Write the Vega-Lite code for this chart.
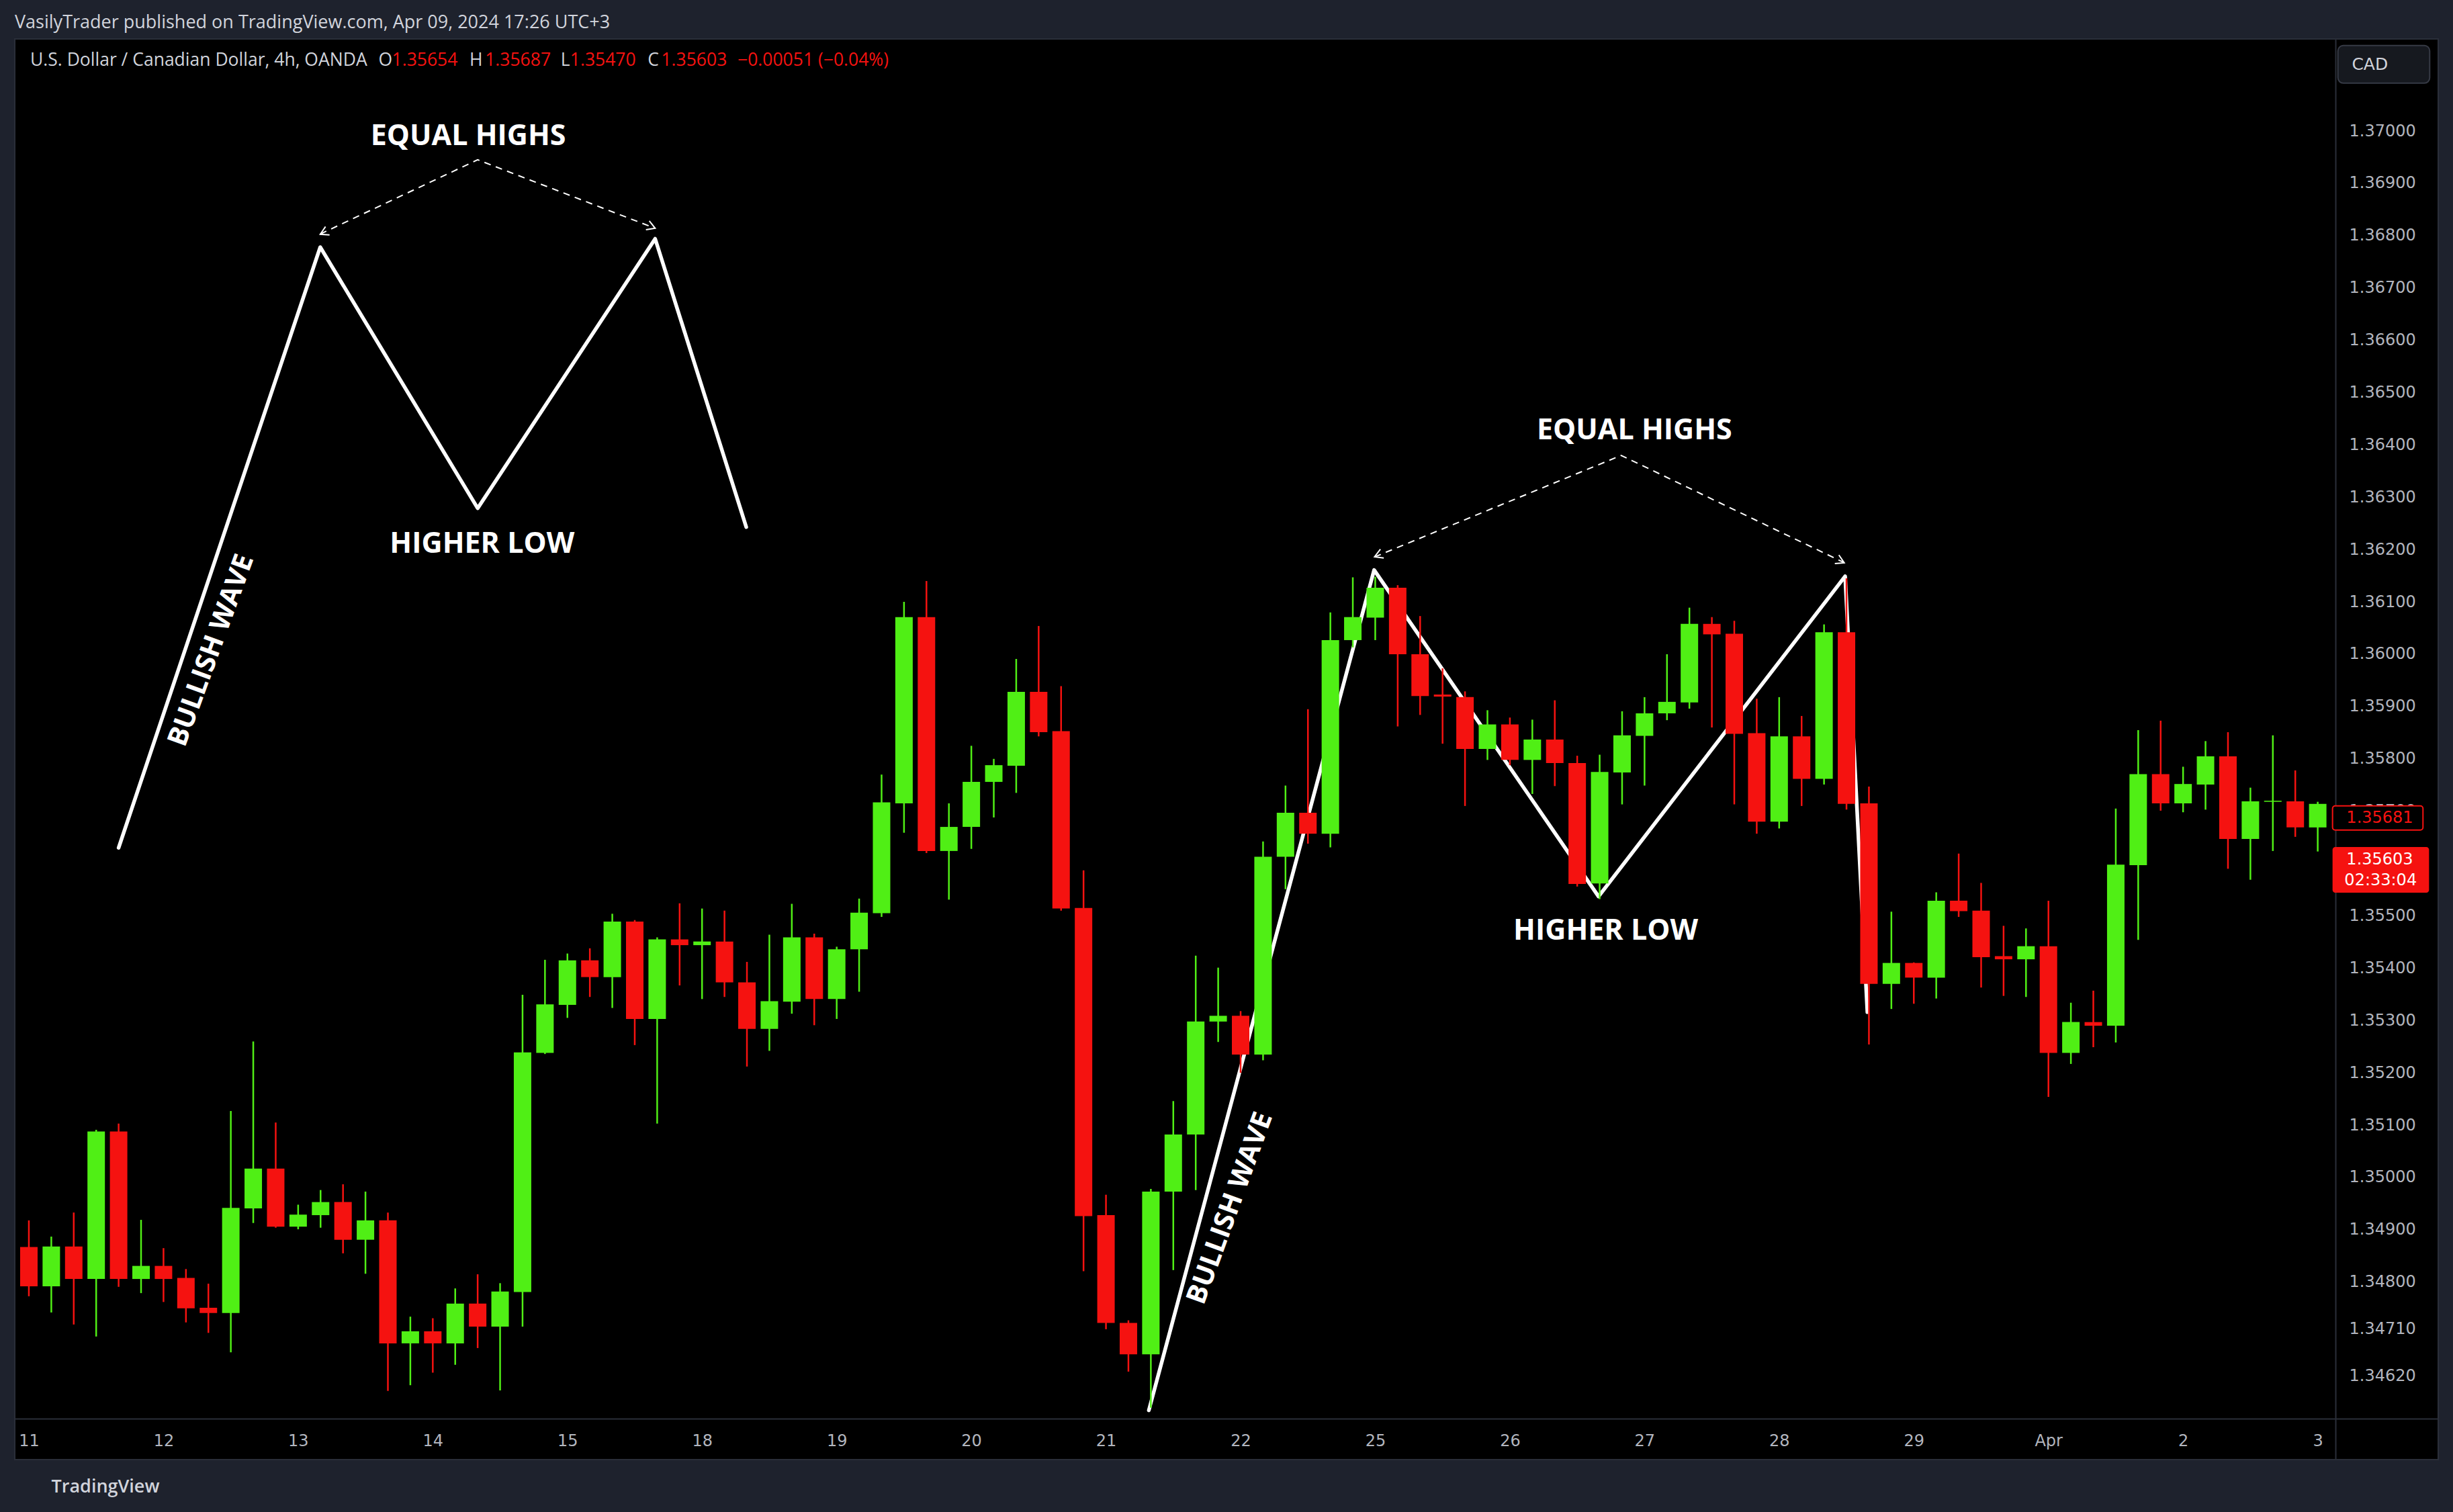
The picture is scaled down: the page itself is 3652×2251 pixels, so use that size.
{
  "$schema": "https://vega.github.io/schema/vega-lite/v6.json",
  "width": 3608,
  "height": 2115,
  "autosize": {"type": "none"},
  "padding": {"left": 22, "top": 58, "right": 22, "bottom": 78},
  "background": "#1e222d",
  "config": {"view": {"fill": "#000000", "stroke": "#2a2e39", "strokeWidth": 2}},
  "title": {
    "text": "VasilyTrader published on TradingView.com, Apr 09, 2024 17:26 UTC+3",
    "anchor": "start", "frame": "group", "orient": "top", "offset": -3, "baseline": "middle",
    "font": "Open Sans", "fontSize": 27, "fontWeight": "normal", "color": "#d1d4dc"
  },
  "datasets": {
    "candles": [
      {"i":0,"o":1.34867,"h":1.34918,"l":1.34773,"c":1.34792},
      {"i":1,"o":1.34792,"h":1.34887,"l":1.34742,"c":1.34868},
      {"i":2,"o":1.34868,"h":1.34933,"l":1.34719,"c":1.34806},
      {"i":3,"o":1.34806,"h":1.35091,"l":1.34696,"c":1.35088},
      {"i":4,"o":1.35088,"h":1.35103,"l":1.34791,"c":1.34806},
      {"i":5,"o":1.34806,"h":1.34919,"l":1.34779,"c":1.34831},
      {"i":6,"o":1.34831,"h":1.34865,"l":1.34762,"c":1.34806},
      {"i":7,"o":1.34808,"h":1.34825,"l":1.34723,"c":1.3475},
      {"i":8,"o":1.34751,"h":1.34797,"l":1.34703,"c":1.34741},
      {"i":9,"o":1.34741,"h":1.35127,"l":1.34666,"c":1.34942},
      {"i":10,"o":1.34941,"h":1.3526,"l":1.34913,"c":1.35017},
      {"i":11,"o":1.35017,"h":1.35105,"l":1.34904,"c":1.34906},
      {"i":12,"o":1.34906,"h":1.34948,"l":1.34901,"c":1.34929},
      {"i":13,"o":1.34928,"h":1.34976,"l":1.34904,"c":1.34953},
      {"i":14,"o":1.34953,"h":1.34987,"l":1.34855,"c":1.34881},
      {"i":15,"o":1.34881,"h":1.34973,"l":1.34816,"c":1.34918},
      {"i":16,"o":1.34918,"h":1.34933,"l":1.34592,"c":1.34683},
      {"i":17,"o":1.34683,"h":1.34734,"l":1.34603,"c":1.34706},
      {"i":18,"o":1.34706,"h":1.34731,"l":1.34627,"c":1.34683},
      {"i":19,"o":1.34683,"h":1.34788,"l":1.34642,"c":1.34759},
      {"i":20,"o":1.34759,"h":1.34815,"l":1.34674,"c":1.34715},
      {"i":21,"o":1.34715,"h":1.34798,"l":1.34593,"c":1.34782},
      {"i":22,"o":1.34781,"h":1.35349,"l":1.34715,"c":1.35239},
      {"i":23,"o":1.35238,"h":1.35416,"l":1.35236,"c":1.35331},
      {"i":24,"o":1.3533,"h":1.35428,"l":1.35305,"c":1.35415},
      {"i":25,"o":1.35415,"h":1.35438,"l":1.35345,"c":1.35383},
      {"i":26,"o":1.35383,"h":1.35504,"l":1.35324,"c":1.35489},
      {"i":27,"o":1.35489,"h":1.35492,"l":1.35253,"c":1.35303},
      {"i":28,"o":1.35303,"h":1.35459,"l":1.35103,"c":1.35455},
      {"i":29,"o":1.35455,"h":1.35524,"l":1.35367,"c":1.35444},
      {"i":30,"o":1.35444,"h":1.35514,"l":1.35341,"c":1.35451},
      {"i":31,"o":1.35451,"h":1.3551,"l":1.35345,"c":1.35373},
      {"i":32,"o":1.35373,"h":1.35412,"l":1.35212,"c":1.35284},
      {"i":33,"o":1.35284,"h":1.35464,"l":1.35242,"c":1.35337},
      {"i":34,"o":1.35336,"h":1.35523,"l":1.35313,"c":1.35459},
      {"i":35,"o":1.35459,"h":1.35466,"l":1.35291,"c":1.35341},
      {"i":36,"o":1.35341,"h":1.35441,"l":1.35303,"c":1.35436},
      {"i":37,"o":1.35436,"h":1.35533,"l":1.35355,"c":1.35506},
      {"i":38,"o":1.35505,"h":1.3577,"l":1.35498,"c":1.35717},
      {"i":39,"o":1.35715,"h":1.361,"l":1.35659,"c":1.36071},
      {"i":40,"o":1.36071,"h":1.3614,"l":1.3562,"c":1.35624},
      {"i":41,"o":1.35624,"h":1.35715,"l":1.35531,"c":1.3567},
      {"i":42,"o":1.3567,"h":1.35825,"l":1.35628,"c":1.35756},
      {"i":43,"o":1.35756,"h":1.358,"l":1.35688,"c":1.35788},
      {"i":44,"o":1.35787,"h":1.35991,"l":1.35735,"c":1.35928},
      {"i":45,"o":1.35928,"h":1.36054,"l":1.35843,"c":1.35851},
      {"i":46,"o":1.35853,"h":1.35939,"l":1.3551,"c":1.35514},
      {"i":47,"o":1.35515,"h":1.35587,"l":1.34821,"c":1.34926},
      {"i":48,"o":1.34928,"h":1.34967,"l":1.3471,"c":1.34722},
      {"i":49,"o":1.34722,"h":1.34727,"l":1.34629,"c":1.34662},
      {"i":50,"o":1.34662,"h":1.34978,"l":1.3456,"c":1.34973},
      {"i":51,"o":1.34973,"h":1.35146,"l":1.34823,"c":1.35082},
      {"i":52,"o":1.35082,"h":1.35424,"l":1.34976,"c":1.35298},
      {"i":53,"o":1.35298,"h":1.35401,"l":1.35259,"c":1.35309},
      {"i":54,"o":1.35309,"h":1.35318,"l":1.352,"c":1.35235},
      {"i":55,"o":1.35235,"h":1.35642,"l":1.35224,"c":1.35613},
      {"i":56,"o":1.35613,"h":1.35749,"l":1.35551,"c":1.35697},
      {"i":57,"o":1.35697,"h":1.35895,"l":1.35638,"c":1.35657},
      {"i":58,"o":1.35657,"h":1.3608,"l":1.35631,"c":1.36027},
      {"i":59,"o":1.36027,"h":1.36147,"l":1.36013,"c":1.36071},
      {"i":60,"o":1.3607,"h":1.36148,"l":1.36027,"c":1.36127},
      {"i":61,"o":1.36127,"h":1.36132,"l":1.35862,"c":1.36},
      {"i":62,"o":1.36,"h":1.36073,"l":1.35884,"c":1.3592},
      {"i":63,"o":1.35923,"h":1.35973,"l":1.35829,"c":1.35919},
      {"i":64,"o":1.35918,"h":1.35929,"l":1.3571,"c":1.35819},
      {"i":65,"o":1.35819,"h":1.35893,"l":1.35798,"c":1.35866},
      {"i":66,"o":1.35866,"h":1.35879,"l":1.35788,"c":1.35798},
      {"i":67,"o":1.35798,"h":1.35875,"l":1.35733,"c":1.35837},
      {"i":68,"o":1.35837,"h":1.35912,"l":1.35748,"c":1.35792},
      {"i":69,"o":1.35792,"h":1.35806,"l":1.35556,"c":1.35561},
      {"i":70,"o":1.35562,"h":1.35808,"l":1.35532,"c":1.35775},
      {"i":71,"o":1.35774,"h":1.35891,"l":1.35713,"c":1.35845},
      {"i":72,"o":1.35844,"h":1.35918,"l":1.35749,"c":1.35887},
      {"i":73,"o":1.35887,"h":1.36,"l":1.35874,"c":1.35909},
      {"i":74,"o":1.35908,"h":1.36089,"l":1.35896,"c":1.36058},
      {"i":75,"o":1.36058,"h":1.36071,"l":1.3586,"c":1.36038},
      {"i":76,"o":1.36039,"h":1.36064,"l":1.35713,"c":1.35848},
      {"i":77,"o":1.35849,"h":1.35915,"l":1.35657,"c":1.3568},
      {"i":78,"o":1.3568,"h":1.35918,"l":1.35667,"c":1.35843},
      {"i":79,"o":1.35843,"h":1.35882,"l":1.3571,"c":1.35762},
      {"i":80,"o":1.35762,"h":1.36057,"l":1.35751,"c":1.36042},
      {"i":81,"o":1.36042,"h":1.36145,"l":1.35703,"c":1.35714},
      {"i":82,"o":1.35715,"h":1.35747,"l":1.35254,"c":1.3537},
      {"i":83,"o":1.3537,"h":1.35508,"l":1.35322,"c":1.3541},
      {"i":84,"o":1.3541,"h":1.35411,"l":1.35332,"c":1.35382},
      {"i":85,"o":1.35382,"h":1.35545,"l":1.35342,"c":1.35529},
      {"i":86,"o":1.35529,"h":1.35619,"l":1.35498,"c":1.35509},
      {"i":87,"o":1.3551,"h":1.35563,"l":1.35363,"c":1.35421},
      {"i":88,"o":1.35423,"h":1.35481,"l":1.35347,"c":1.35417},
      {"i":89,"o":1.35417,"h":1.35476,"l":1.35345,"c":1.35442},
      {"i":90,"o":1.35442,"h":1.35529,"l":1.35154,"c":1.35238},
      {"i":91,"o":1.35238,"h":1.35334,"l":1.35217,"c":1.35297},
      {"i":92,"o":1.35297,"h":1.35357,"l":1.35249,"c":1.3529},
      {"i":93,"o":1.3529,"h":1.35705,"l":1.35258,"c":1.35598},
      {"i":94,"o":1.35597,"h":1.35855,"l":1.35454,"c":1.35771},
      {"i":95,"o":1.35771,"h":1.35873,"l":1.35701,"c":1.35715},
      {"i":96,"o":1.35715,"h":1.35785,"l":1.35698,"c":1.35752},
      {"i":97,"o":1.35751,"h":1.35834,"l":1.35703,"c":1.35805},
      {"i":98,"o":1.35805,"h":1.35851,"l":1.3559,"c":1.35647},
      {"i":99,"o":1.35647,"h":1.35745,"l":1.35569,"c":1.35719},
      {"i":100,"o":1.35718,"h":1.35845,"l":1.35624,"c":1.3572},
      {"i":101,"o":1.35719,"h":1.35778,"l":1.35651,"c":1.35669},
      {"i":102,"o":1.35669,"h":1.35718,"l":1.35623,"c":1.35714}
    ],
    "waves": [
      {"g":"left","k":0,"i":4.0,"p":1.3563},
      {"g":"left","k":1,"i":12.985,"p":1.36778},
      {"g":"left","k":2,"i":20.0,"p":1.36279},
      {"g":"left","k":3,"i":27.91,"p":1.36794},
      {"g":"left","k":4,"i":31.97,"p":1.36243},
      {"g":"right","k":0,"i":49.91,"p":1.34555},
      {"g":"right","k":1,"i":59.95,"p":1.36161},
      {"g":"right","k":2,"i":69.95,"p":1.35537},
      {"g":"right","k":3,"i":80.94,"p":1.36149},
      {"g":"right","k":4,"i":81.93,"p":1.35316}
    ],
    "dashes": [
      {"g":"left","k":0,"i":12.985,"p":1.36803},
      {"g":"left","k":1,"i":20.0,"p":1.36945},
      {"g":"left","k":2,"i":27.91,"p":1.36814},
      {"g":"right","k":0,"i":59.97,"p":1.36186},
      {"g":"right","k":1,"i":70.96,"p":1.3638},
      {"g":"right","k":2,"i":80.9,"p":1.36175}
    ],
    "arrows": [
      {"g":"a","k":0,"i":13.4,"p":1.368013},
      {"g":"a","k":1,"i":12.985,"p":1.368026},
      {"g":"a","k":2,"i":13.22,"p":1.368173},
      {"g":"b","k":0,"i":27.65,"p":1.368281},
      {"g":"b","k":1,"i":27.91,"p":1.368141},
      {"g":"b","k":2,"i":27.5,"p":1.368113},
      {"g":"c","k":0,"i":60.38,"p":1.361839},
      {"g":"c","k":1,"i":59.97,"p":1.361863},
      {"g":"c","k":2,"i":60.23,"p":1.362006},
      {"g":"d","k":0,"i":80.66,"p":1.361896},
      {"g":"d","k":1,"i":80.9,"p":1.361747},
      {"g":"d","k":2,"i":80.48,"p":1.361733}
    ],
    "notes": [
      {"t":"EQUAL HIGHS","i":19.58,"p":1.3699},
      {"t":"HIGHER LOW","i":20.2,"p":1.36211},
      {"t":"EQUAL HIGHS","i":71.55,"p":1.36428},
      {"t":"HIGHER LOW","i":70.27,"p":1.35471}
    ],
    "waveNotes": [
      {"t":"BULLISH WAVE","i":8.15,"p":1.36007},
      {"t":"BULLISH WAVE","i":53.55,"p":1.34941}
    ],
    "legendGray": [
      {"t":"U.S. Dollar / Canadian Dollar, 4h, OANDA","i":0.06,"p":1.37135},
      {"t":"O","i":15.58,"p":1.37135},
      {"t":"H","i":19.64,"p":1.37135},
      {"t":"L","i":23.7,"p":1.37135},
      {"t":"C","i":27.58,"p":1.37135}
    ],
    "legendRed": [
      {"t":"1.35654","i":16.18,"p":1.37135},
      {"t":"1.35687","i":20.33,"p":1.37135},
      {"t":"1.35470","i":24.12,"p":1.37135},
      {"t":"1.35603","i":28.18,"p":1.37135},
      {"t":"−0.00051 (−0.04%)","i":31.58,"p":1.37135}
    ]
  },
  "layer": [
    {
      "data": {"name": "dashes"},
      "mark": {"type": "line", "color": "#ffffff", "strokeWidth": 2, "strokeDash": [10, 8]},
      "encoding": {
        "x": {"field": "i", "type": "quantitative",
          "scale": {"domain": [-0.478, 107.22], "nice": false, "zero": false},
          "axis": {
            "orient": "bottom", "offset": -61,
            "values": [0,6,12,18,24,30,36,42,48,54,60,66,72,78,84,90,96,102],
            "labelExpr": "['11','12','13','14','15','18','19','20','21','22','25','26','27','28','29','Apr','2','3'][round(datum.value/6)]",
            "domainColor": "#2a2e39", "domainWidth": 2, "ticks": false, "tickSize": 0, "grid": false,
            "labelPadding": 33, "labelBaseline": "middle", "labelFont": "DejaVu Sans", "labelFontSize": 24,
            "labelColor": "#b2b5be", "labelFlush": false, "labelOverlap": false,
            "title": "TradingView", "titleFont": "Open Sans", "titleFontSize": 27, "titleFontWeight": 600,
            "titleColor": "#d1d4dc", "titleAnchor": "start", "titleAlign": "left", "titleBaseline": "middle",
            "titleX": 54, "titleY": 101
          }
        },
        "y": {"field": "p", "type": "quantitative",
          "scale": {"domain": [1.344608, 1.371759], "nice": false, "zero": false},
          "axis": {
            "orient": "right", "offset": -153,
            "values": [1.37,1.369,1.368,1.367,1.366,1.365,1.364,1.363,1.362,1.361,1.36,1.359,1.358,1.357,1.355,1.354,1.353,1.352,1.351,1.35,1.349,1.348,1.3471,1.3462],
            "format": ".5f",
            "domainColor": "#2a2e39", "domainWidth": 2, "ticks": false, "tickSize": 0, "grid": false,
            "labelPadding": 20, "labelBaseline": "middle", "labelAlign": "left", "labelFont": "DejaVu Sans",
            "labelFontSize": 24, "labelColor": "#b2b5be", "labelFlush": false, "labelOverlap": false,
            "title": null
          }
        },
        "detail": {"field": "g"},
        "order": {"field": "k", "type": "quantitative"}
      }
    },
    {
      "data": {"name": "arrows"},
      "mark": {"type": "line", "color": "#ffffff", "strokeWidth": 2},
      "encoding": {
        "x": {"field": "i", "type": "quantitative"},
        "y": {"field": "p", "type": "quantitative"},
        "detail": {"field": "g"},
        "order": {"field": "k", "type": "quantitative"}
      }
    },
    {
      "data": {"name": "waves"},
      "mark": {"type": "line", "color": "#ffffff", "strokeWidth": 5.5, "strokeCap": "round", "strokeJoin": "round"},
      "encoding": {
        "x": {"field": "i", "type": "quantitative"},
        "y": {"field": "p", "type": "quantitative"},
        "detail": {"field": "g"},
        "order": {"field": "k", "type": "quantitative"}
      }
    },
    {
      "data": {"name": "candles"},
      "mark": {"type": "rule", "strokeWidth": 2.5},
      "encoding": {
        "x": {"field": "i", "type": "quantitative"},
        "y": {"field": "l", "type": "quantitative"},
        "y2": {"field": "h"},
        "color": {"condition": {"test": "datum.c >= datum.o", "value": "#50ef15"}, "value": "#f51210"}
      }
    },
    {
      "data": {"name": "candles"},
      "mark": {"type": "bar", "width": 26},
      "encoding": {
        "x": {"field": "i", "type": "quantitative"},
        "y": {"field": "o", "type": "quantitative"},
        "y2": {"field": "c"},
        "color": {"condition": {"test": "datum.c >= datum.o", "value": "#50ef15"}, "value": "#f51210"}
      }
    },
    {
      "data": {"name": "notes"},
      "mark": {"type": "text", "font": "Open Sans", "fontWeight": "bold", "fontSize": 43, "color": "#ffffff", "align": "center", "baseline": "middle"},
      "encoding": {
        "x": {"field": "i", "type": "quantitative"},
        "y": {"field": "p", "type": "quantitative"},
        "text": {"field": "t"}
      }
    },
    {
      "data": {"name": "waveNotes"},
      "mark": {"type": "text", "font": "Open Sans", "fontWeight": "bold", "fontSize": 41, "color": "#ffffff", "align": "center", "baseline": "middle", "angle": 290},
      "encoding": {
        "x": {"field": "i", "type": "quantitative"},
        "y": {"field": "p", "type": "quantitative"},
        "text": {"field": "t"}
      }
    },
    {
      "data": {"name": "legendGray"},
      "mark": {"type": "text", "font": "Open Sans", "fontSize": 26.5, "color": "#d1d4dc", "align": "left", "baseline": "middle"},
      "encoding": {
        "x": {"field": "i", "type": "quantitative"},
        "y": {"field": "p", "type": "quantitative"},
        "text": {"field": "t"}
      }
    },
    {
      "data": {"name": "legendRed"},
      "mark": {"type": "text", "font": "Open Sans", "fontSize": 26.5, "color": "#f51210", "align": "left", "baseline": "middle"},
      "encoding": {
        "x": {"field": "i", "type": "quantitative"},
        "y": {"field": "p", "type": "quantitative"},
        "text": {"field": "t"}
      }
    },
    {
      "data": {"values": [{}]},
      "mark": {"type": "rect", "fill": "#16191f", "stroke": "#363a45", "strokeWidth": 2, "cornerRadius": 8},
      "encoding": {
        "x": {"datum": 102.9, "type": "quantitative"},
        "x2": {"datum": 106.99},
        "y": {"datum": 1.371633, "type": "quantitative"},
        "y2": {"datum": 1.370914}
      }
    },
    {
      "data": {"values": [{"t": "CAD", "i": 103.52, "p": 1.371274}]},
      "mark": {"type": "text", "font": "DejaVu Sans", "fontSize": 25, "color": "#d1d4dc", "align": "left", "baseline": "middle"},
      "encoding": {
        "x": {"field": "i", "type": "quantitative"},
        "y": {"field": "p", "type": "quantitative"},
        "text": {"field": "t"}
      }
    },
    {
      "data": {"values": [{}]},
      "mark": {"type": "rect", "fill": "#000000", "stroke": "#f51210", "strokeWidth": 2, "cornerRadius": 4},
      "encoding": {
        "x": {"datum": 102.66, "type": "quantitative"},
        "x2": {"datum": 106.69},
        "y": {"datum": 1.357102, "type": "quantitative"},
        "y2": {"datum": 1.35664}
      }
    },
    {
      "data": {"values": [{}]},
      "mark": {"type": "rect", "fill": "#f51210", "cornerRadius": 4},
      "encoding": {
        "x": {"datum": 102.66, "type": "quantitative"},
        "x2": {"datum": 106.96},
        "y": {"datum": 1.356317, "type": "quantitative"},
        "y2": {"datum": 1.355444}
      }
    },
    {
      "data": {"values": [{"t": "1.35681", "i": 103.28, "p": 1.356869}]},
      "mark": {"type": "text", "font": "DejaVu Sans", "fontSize": 24, "color": "#f51210", "align": "left", "baseline": "middle"},
      "encoding": {
        "x": {"field": "i", "type": "quantitative"},
        "y": {"field": "p", "type": "quantitative"},
        "text": {"field": "t"}
      }
    },
    {
      "data": {"values": [{"t": "1.35603", "i": 103.28, "p": 1.35607}, {"t": "02:33:04", "i": 103.19, "p": 1.355675}]},
      "mark": {"type": "text", "font": "DejaVu Sans", "fontSize": 24, "color": "#ffffff", "align": "left", "baseline": "middle"},
      "encoding": {
        "x": {"field": "i", "type": "quantitative"},
        "y": {"field": "p", "type": "quantitative"},
        "text": {"field": "t"}
      }
    }
  ]
}
